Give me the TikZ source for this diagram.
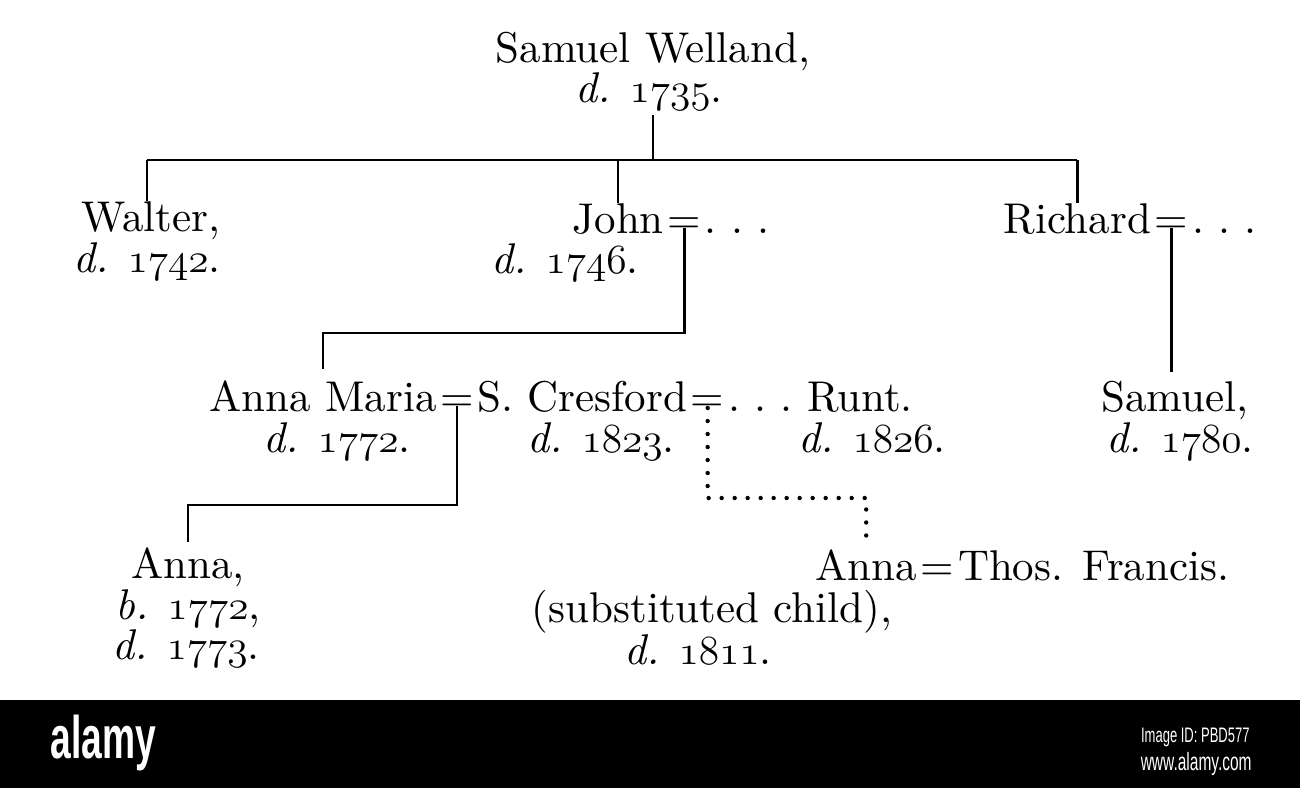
\documentclass[tikz,border=0pt]{standalone}
\usepackage{fontspec}
\setmainfont{lmroman10-regular.otf}[ItalicFont=lmroman10-italic.otf]
\newfontfamily\alamyfont{Liberation Sans}[FakeStretch=0.62]
\newcommand{\yr}[1]{{\usefont{OML}{cmm}{m}{it}#1}}
\usetikzlibrary{positioning,calc}

\begin{document}
\begin{tikzpicture}[
        x=0.5pt, y=-0.5pt,
        person/.style={inner sep=0pt, anchor=base, font=\fontsize{21.5}{19.5}\selectfont},
        eqsign/.style={person, inner xsep=1.5pt},
        kin/.style={line width=1.3pt},
        doubt/.style={line width=2.2pt, line cap=round, dash pattern=on 0pt off 6.5pt},
        stamp/.style={inner sep=0pt, text=white}
    ]
    \useasboundingbox (0,0) rectangle (1300,788);
    % first generation
    \node[person] (sw) at (653,62) {Samuel Welland,};
    \node[person] (swd) at (649,102) {\textit{d.} \yr{1735}.};
    % sons
    \node[person] (wa) at (151,231) {Walter,};
    \node[person] (wad) at (147,272) {\textit{d.} \yr{1742}.};
    \node[person, anchor=base west] (jo) at (572,233) {John};
    \node[eqsign, base right=0pt of jo] (jeq) {=};
    \node[person, base right=0pt of jeq] (jsp) {.\ .\ .};
    \node[person] (jod) at (565,273) {\textit{d.} \yr{1746}.};
    \node[person, anchor=base west] (ri) at (1003,233) {Richard};
    \node[eqsign, base right=0pt of ri] (req) {=};
    \node[person, base right=0pt of req] (rsp) {.\ .\ .};
    % grandchildren
    \node[person, anchor=base west] (am) at (209,411) {Anna Maria};
    \node[eqsign, base right=0pt of am] (ameq) {=};
    \node[person, base right=0pt of ameq] (sc) {S. Cresford};
    \node[eqsign, base right=0pt of sc] (sceq) {=};
    \node[person, base right=0pt of sceq] (ru) {.\ .\ .\ Runt.};
    \node[person] (amd) at (337,452) {\textit{d.} \yr{1772}.};
    \node[person] (scd) at (601,452) {\textit{d.} \yr{1823}.};
    \node[person] (rud) at (872,452) {\textit{d.} \yr{1826}.};
    \node[person] (sa) at (1175,411) {Samuel,};
    \node[person] (sad) at (1180,452) {\textit{d.} \yr{1780}.};
    % last row
    \node[person] (an) at (188,578) {Anna,};
    \node[person] (anb) at (188,619) {\textit{b.} \yr{1772},};
    \node[person] (and) at (186,659) {\textit{d.} \yr{1773}.};
    \node[person, anchor=base west] (at) at (815,580) {Anna};
    \node[eqsign, base right=0pt of at] (ateq) {=};
    \node[person, base right=0pt of ateq] (tf) {Thos. Francis.};
    \node[person] (atc) at (712,622) {(substituted child),};
    \node[person] (atd) at (698,664) {\textit{d.} \yr{1811}.};

    % junctions
    \coordinate (topbar) at (0,160);
    \coordinate (jbar) at (0,333);
    \coordinate (ambar) at (0,505);
    \coordinate (scbar) at (0,498);
    \coordinate (swbot) at ($(swd.base)+(4,13)$);
    \coordinate (amtop) at ($(am.north)+(0,-11)$);
    \coordinate (satop) at ($(sa.north)+(0,-8)$);
    \coordinate (antop) at ($(an.north)+(0,-5)$);
    \coordinate (attop) at ($(at.north)+(0,-5)$);

    \draw[kin] (swbot) -- (swbot |- topbar);
    \draw[kin] (wad |- topbar) -- (ri |- topbar);
    \draw[kin] (wad |- topbar) -- (wad |- wa.north);
    \draw[kin] (jo |- topbar) -- (jo.north);
    \draw[kin] (ri |- topbar) -- (ri.north);
    \draw[kin] ($(jeq.base)+(0,-5)$) -- (jeq |- jbar) -| (amtop);
    \draw[kin] ($(req.base)+(0,-5)$) -- (req |- satop);
    \draw[kin] ($(ameq.base)+(0,-5)$) -- (ameq |- ambar) -| (antop);
    \draw[doubt] ($(sceq.base)+(0,-3)$) -- (sceq |- scbar) -| (attop);

    % picture agency strip
    \fill[black] (0,700) rectangle (1300,788);
    \node[stamp, anchor=base west, font=\alamyfont\bfseries\fontsize{30}{30}\selectfont] (logo) at (50,758) {alamy};
    \node[stamp, anchor=base east, font=\alamyfont\fontsize{10.5}{10.5}\selectfont] (imgid) at (1250,742) {Image ID: PBD577};
    \node[stamp, anchor=base east, font=\alamyfont\fontsize{12.5}{12.5}\selectfont] (site) at (1252,770) {www.alamy.com};
\end{tikzpicture}
\end{document}
